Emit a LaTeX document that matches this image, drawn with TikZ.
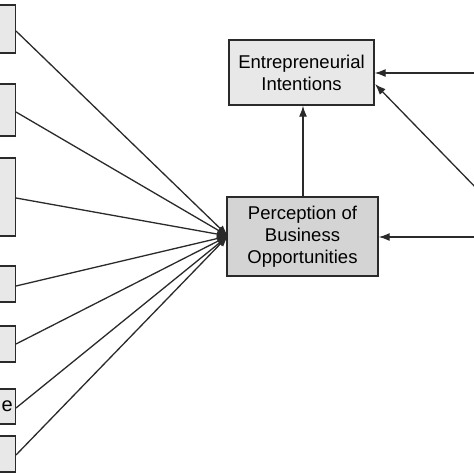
\documentclass[tikz,border=0pt]{standalone}
\usepackage{fontspec}
\setmainfont{Liberation Sans}
\usetikzlibrary{arrows.meta}
\definecolor{linec}{HTML}{2A2A2A}
\definecolor{lightbox}{HTML}{E8E8E8}
\definecolor{darkbox}{HTML}{D4D4D4}
\tikzset{
  lbox/.style={draw=linec, line width=1.4pt, fill=lightbox, inner sep=0pt, minimum width=50pt, anchor=east},
  mainbox/.style={draw=linec, line width=1.4pt, align=center, inner sep=0pt, font=\fontsize{18.5}{22}\selectfont},
  conn/.style={draw=linec, line width=1.3pt, -{Latex[length=11pt,width=8pt]}},
}
\begin{document}
\begin{tikzpicture}[x=1pt,y=-1pt]
\useasboundingbox (0,0) rectangle (474,474);
\clip (0,0) rectangle (474,474);
\fill[white] (0,0) rectangle (474,474);
% left boxes
\node[lbox, minimum height=48pt] (l1) at (16,29) {};
\node[lbox, minimum height=52pt] (l2) at (16,110) {};
\node[lbox, minimum height=78pt] (l3) at (16,197) {};
\node[lbox, minimum height=36pt] (l4) at (16,284) {};
\node[lbox, minimum height=36pt] (l5) at (16,344) {};
\node[lbox, minimum height=35pt] (l6) at (16,406.5) {};
\node[lbox, minimum height=36pt] (l7) at (16,454) {};
\node[anchor=east, inner sep=0pt, font=\fontsize{20}{22}\selectfont] (t6) at (13,406.5) {e};
% main boxes
\node[mainbox, fill=lightbox, minimum width=145pt, minimum height=65pt] (ei) at (301.5,72.5) {Entrepreneurial\\Intentions};
\node[mainbox, fill=darkbox, minimum width=151pt, minimum height=79pt] (pb) at (302.5,236.5) {Perception of\\Business\\Opportunities};
% converging arrows
\coordinate (c) at (228,236);
\draw[conn] (16,31) -- (c);
\draw[conn] (16,112) -- (c);
\draw[conn] (16,198) -- (c);
\draw[conn] (16,286) -- (c);
\draw[conn] (16,344) -- (c);
\draw[conn] (16,408) -- (c);
\draw[conn] (16,455) -- (c);
% vertical
\draw[conn] (pb.north -| 303,0) -- (ei.south -| 303,0);
% right arrows
\coordinate (r1) at (480,73);
\coordinate (r2) at (480,192);
\coordinate (r3) at (480,237);
\draw[conn] (r1) -- (ei.east |- r1);
\draw[conn] (r2) -- (375,84);
\draw[conn] (r3) -- (pb.east |- r3);
\end{tikzpicture}
\end{document}
